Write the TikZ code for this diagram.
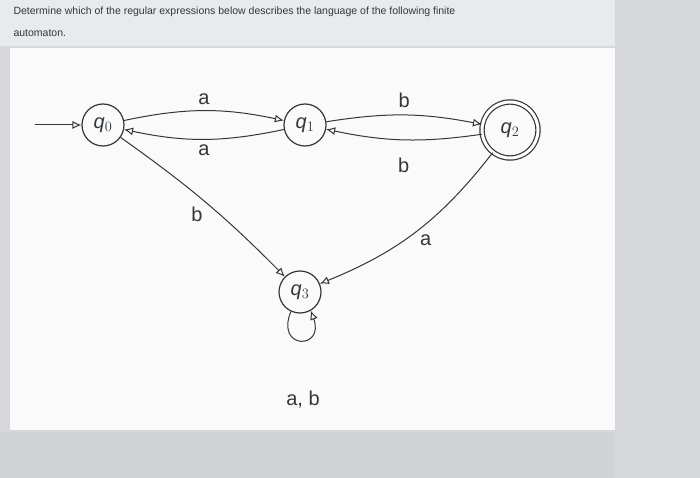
\documentclass[tikz,border=0pt]{standalone}
\usepackage{fontspec}
\setmainfont{Liberation Sans}
\usetikzlibrary{arrows.meta}
\definecolor{band}{RGB}{232,234,237}
\definecolor{side}{RGB}{214,216,220}
\definecolor{paper}{RGB}{250,250,250}
\definecolor{ink}{RGB}{50,55,60}
\begin{document}
\begin{tikzpicture}[x=1pt,y=-1pt,
  st/.style={circle,draw=ink,line width=1.2pt,minimum size=42pt,inner sep=0pt,font=\fontsize{20}{22}\selectfont\itshape,text=ink},
  acc/.style={st,double,double distance=3pt,minimum size=56pt},
  tr/.style={draw=ink,line width=1pt,-{Latex[open,length=9pt,width=8pt]}},
  lb/.style={font=\fontsize{20}{22}\selectfont,text=ink}]
\useasboundingbox (0,0) rectangle (700,478);
\fill[side] (0,0) rectangle (700,478);
\fill[band] (0,0) rectangle (615,46);
\fill[paper] (10,48) rectangle (615,430);
\fill[band!90!black] (0,432) rectangle (615,478);
\node[anchor=west,font=\fontsize{10.5}{13}\selectfont,text=ink] (h1) at (10,12) {Determine which of the regular expressions below describes the language of the following finite};
\node[anchor=west,font=\fontsize{10.5}{13}\selectfont,text=ink] (h2) at (10,33) {automaton.};
\node[st] (q0) at (103,125) {q$_0$};
\node[st] (q1) at (305,125) {q$_1$};
\node[acc] (q2) at (510,130) {q$_2$};
\node[st] (q3) at (300,292) {q$_3$};
\coordinate (s) at (35,125);
\draw[tr] (s) -- (q0);
\draw[tr] (q0) to[bend left=12] node[lb,above=2pt] (la1) {a} (q1);
\draw[tr] (q1) to[bend left=12] node[lb,below=2pt] (la2) {a} (q0);
\draw[tr] (q1) to[bend left=10] node[lb,above=4pt] (lb1) {b} (q2);
\draw[tr] (q2) to[bend left=10] node[lb,below=14pt] (lb2) {b} (q1);
\draw[tr] (q0) to[bend left=5] node[lb,below left] (lb3) {b} (q3);
\draw[tr] (q2) to[bend left=15] node[lb,below right] (la3) {a} (q3);
\draw[tr] (q3.245) .. controls (275,350) and (325,350) .. (q3.300);
\node[lb] (lab) at (303,400) {a, b};
\end{tikzpicture}
\end{document}
